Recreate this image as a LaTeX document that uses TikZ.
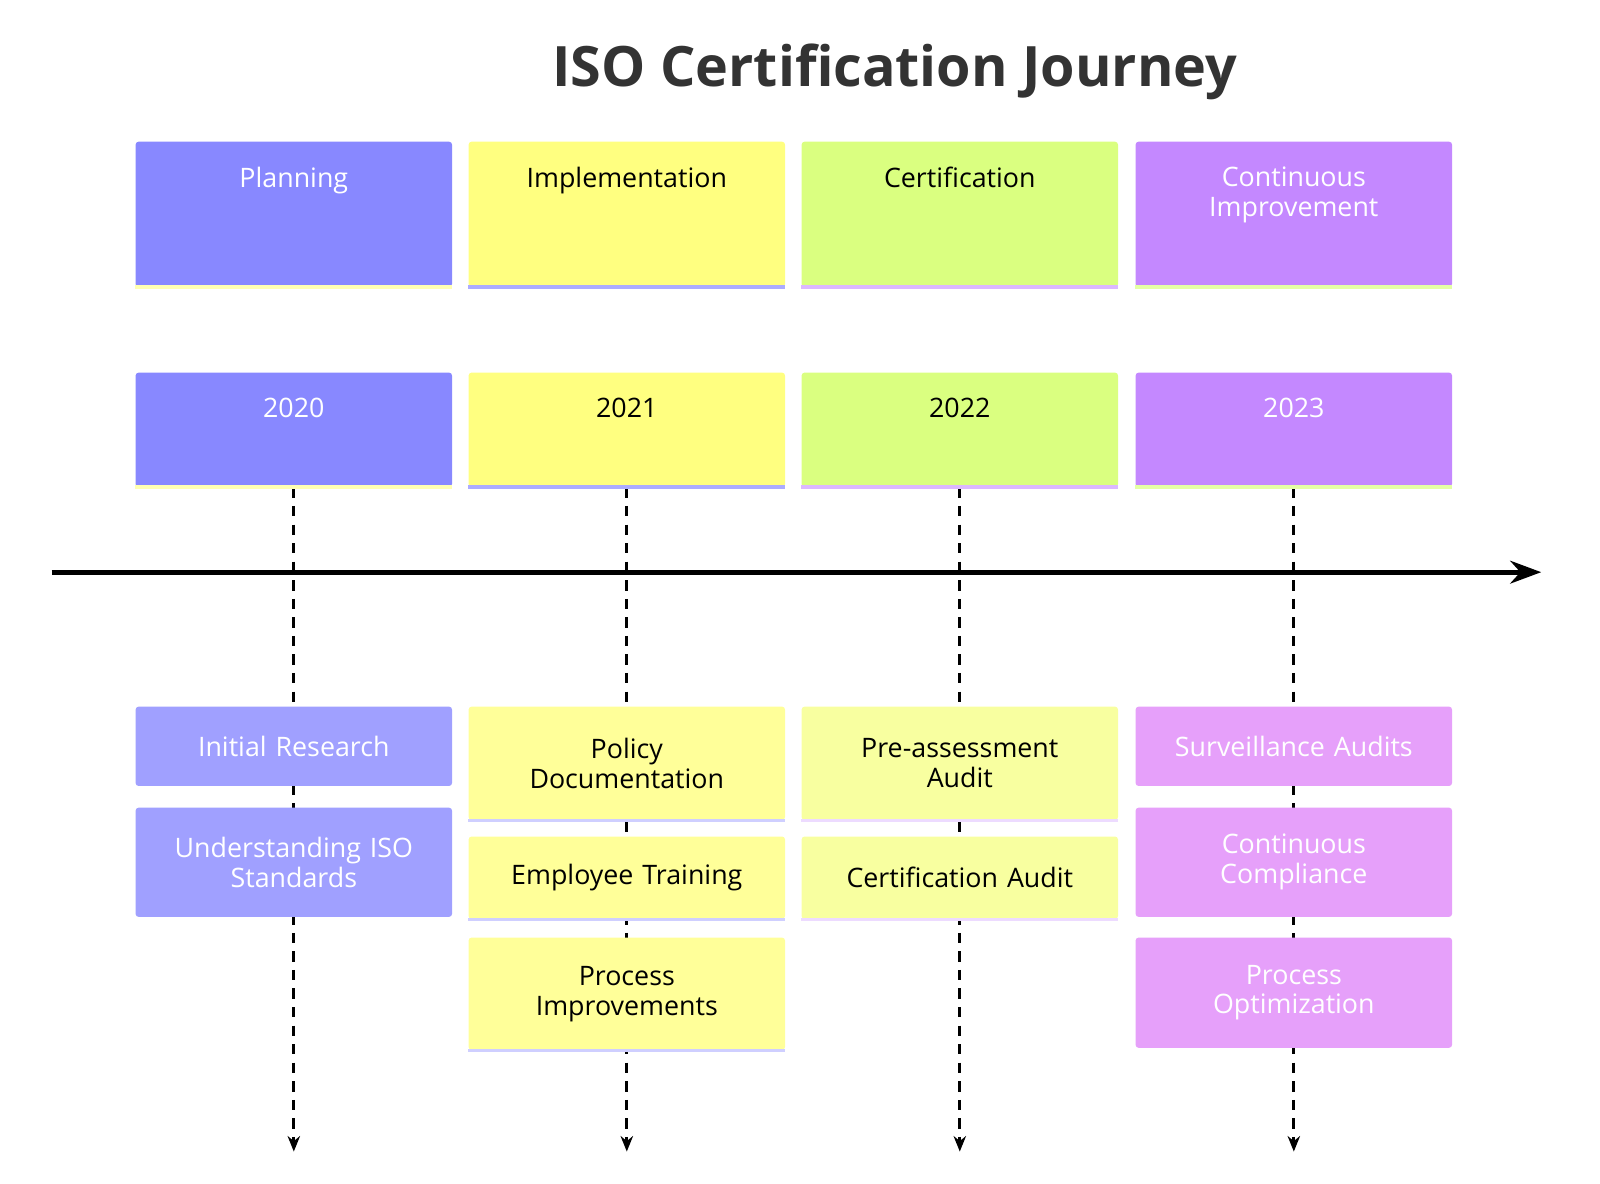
\documentclass[tikz,border=0pt]{standalone}
\usepackage{fontspec}
\setmainfont{Open Sans}
\usetikzlibrary{arrows.meta, positioning, backgrounds}
\definecolor{plan}{HTML}{8888FF}
\definecolor{impl}{HTML}{FFFF80}
\definecolor{cert}{HTML}{DAFF80}
\definecolor{impr}{HTML}{C488FF}
\definecolor{planL}{HTML}{A0A0FF}
\definecolor{implL}{HTML}{FFFF99}
\definecolor{certL}{HTML}{F8FFA0}
\definecolor{imprL}{HTML}{E6A0FA}

\begin{document}
\begin{tikzpicture}[x=1pt, y=-1pt, >=Stealth,
			box/.style={rectangle, rounded corners=3pt, minimum width=307pt, anchor=north, inner sep=0pt},
			lbl/.style={font=\fontsize{26}{29}\selectfont, align=center, text width=295pt},
			item/.style={box, lbl},
			guide/.style={dash pattern=on 10pt off 8pt, line width=3.2pt, ->, >={Stealth[length=15pt, width=12pt]}},
			thick]
			
			\useasboundingbox (0,0) rectangle (1552,1148);
			\node[font=\fontsize{54}{60}\selectfont\bfseries, text=black!80] (title) at (868,70) {ISO Certification Journey};
			
			% Fasi
			\node[box, fill=plan, minimum height=141pt] (h1) at (285,137) {};
			\node[box, fill=impl, minimum height=141pt] (h2) at (608,137) {};
			\node[box, fill=cert, minimum height=141pt] (h3) at (931,137) {};
			\node[box, fill=impr, minimum height=141pt] (h4) at (1255,137) {};
			\node[lbl, text=white, anchor=north] (t1) at (285,158) {Planning};
			\node[lbl, anchor=north] (t2) at (608,158) {Implementation};
			\node[lbl, anchor=north] (t3) at (931,158) {Certification};
			\node[lbl, text=white, anchor=north] (t4) at (1255,158) {Continuous\\Improvement};
			
			% Anni
			\node[box, fill=plan, minimum height=111pt] (y1) at (285,361) {};
			\node[box, fill=impl, minimum height=111pt] (y2) at (608,361) {};
			\node[box, fill=cert, minimum height=111pt] (y3) at (931,361) {};
			\node[box, fill=impr, minimum height=111pt] (y4) at (1255,361) {};
			\node[lbl, text=white, anchor=north] (n1) at (285,382) {2020};
			\node[lbl, anchor=north] (n2) at (608,382) {2021};
			\node[lbl, anchor=north] (n3) at (931,382) {2022};
			\node[lbl, text=white, anchor=north] (n4) at (1255,382) {2023};
			
			% Asse temporale
			\coordinate (a0) at (50,555);
			\coordinate (a1) at (1495,555);
			\draw[line width=5pt, -{Stealth[length=30pt, width=22pt]}] (a0) -- (a1);
			
			% Attivita
			\node[item, fill=planL, text=white, minimum height=77pt] (p1) at (285,685) {Initial Research};
			\node[item, fill=planL, text=white, minimum height=106pt] (p2) at (285,783) {Understanding ISO\\Standards};
			\node[item, fill=implL, minimum height=110pt] (i1) at (608,685) {Policy\\Documentation};
			\node[item, fill=implL, minimum height=80pt] (i2) at (608,811) {Employee Training};
			\node[item, fill=implL, minimum height=109pt] (i3) at (608,909) {Process\\Improvements};
			\node[item, fill=certL, minimum height=110pt] (c1) at (931,685) {Pre-assessment\\Audit};
			\node[item, fill=certL, minimum height=80pt] (c2) at (931,811) {Certification Audit};
			\node[item, fill=imprL, text=white, minimum height=77pt] (s1) at (1255,685) {Surveillance Audits};
			\node[item, fill=imprL, text=white, minimum height=106pt] (s2) at (1255,783) {Continuous\\Compliance};
			\node[item, fill=imprL, text=white, minimum height=107pt] (s3) at (1255,909) {Process\\Optimization};
			
			% Bordi inferiori
			\draw[line width=4pt, impl!60] (h1.south west) -- (h1.south east) (y1.south west) -- (y1.south east);
			\draw[line width=4pt, plan!70] (h2.south west) -- (h2.south east) (y2.south west) -- (y2.south east);
			\draw[line width=4pt, impr!60] (h3.south west) -- (h3.south east) (y3.south west) -- (y3.south east);
			\draw[line width=4pt, cert!70] (h4.south west) -- (h4.south east) (y4.south west) -- (y4.south east);
			\draw[line width=3pt, plan!40] (i1.south west) -- (i1.south east) (i2.south west) -- (i2.south east) (i3.south west) -- (i3.south east);
			\draw[line width=3pt, impr!30] (c1.south west) -- (c1.south east) (c2.south west) -- (c2.south east);
			
			% Linee guida tratteggiate
			\coordinate (e1) at (285,1117);
			\coordinate (e2) at (608,1117);
			\coordinate (e3) at (931,1117);
			\coordinate (e4) at (1255,1117);
			\begin{scope}[on background layer]
				\draw[guide] (y1.south) -- (e1);
				\draw[guide] (y2.south) -- (e2);
				\draw[guide] (y3.south) -- (e3);
				\draw[guide] (y4.south) -- (e4);
			\end{scope}
		\end{tikzpicture}
\end{document}
